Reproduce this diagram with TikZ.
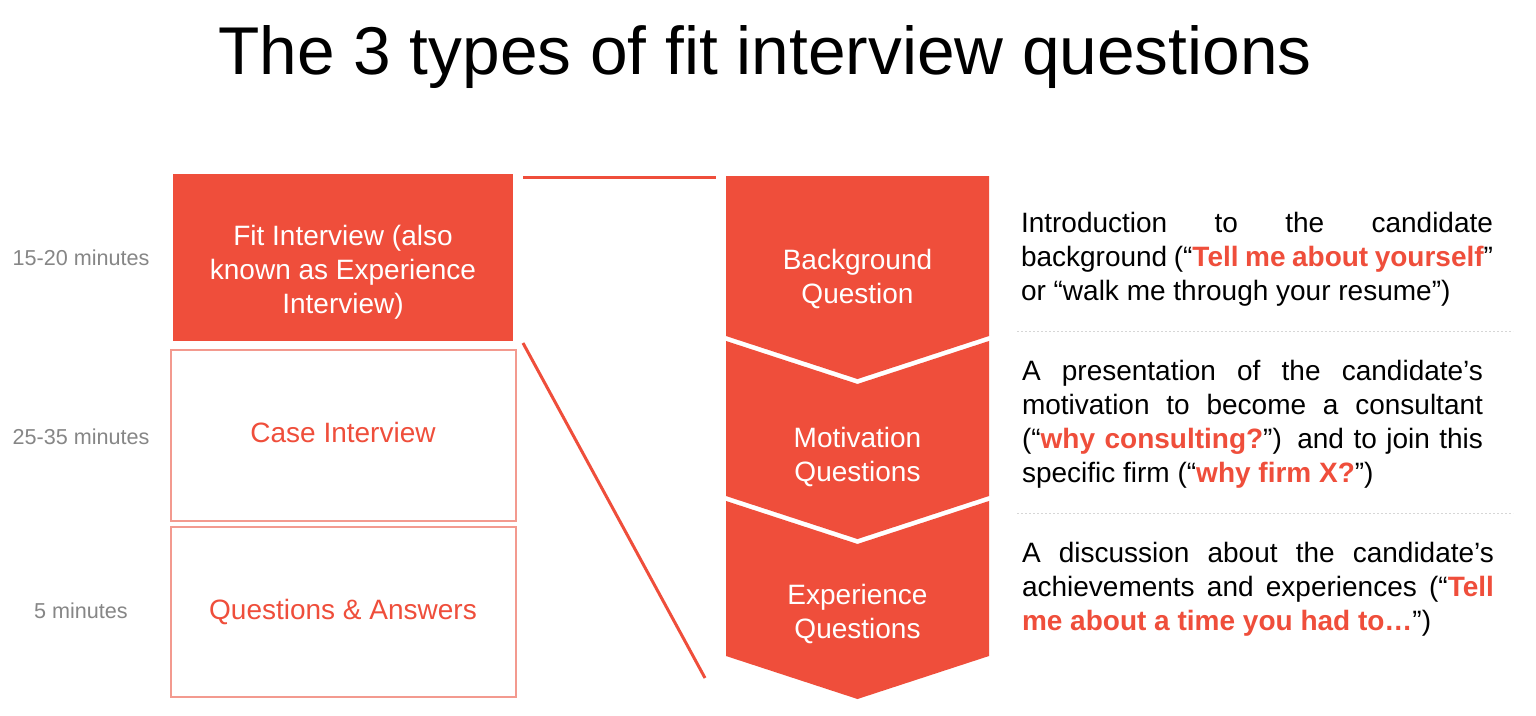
\documentclass[tikz,border=0pt]{standalone}
\usepackage{fontspec}
\setmainfont{Liberation Sans}
\definecolor{qred}{HTML}{EF4E3B}
\definecolor{qpink}{HTML}{F39A8F}
\definecolor{qgray}{HTML}{868686}
\definecolor{qsep}{HTML}{D6D6D6}
\newcommand{\hlq}[1]{\textbf{\color{qred}#1}}
\begin{document}
\begin{tikzpicture}[x=1pt,y=-1pt,
  every node/.style={inner sep=0pt,outer sep=0pt},
  txt/.style={font=\fontsize{28}{34}\selectfont},
  lbl/.style={txt,align=center,anchor=center},
  timelbl/.style={font=\fontsize{21.6}{26}\selectfont,text=qgray,anchor=base},
  para/.style={txt,align=left,anchor=north west},
  outbox/.style={draw=qpink,line width=1.5pt},
  chev/.style={fill=qred},
  link/.style={draw=qred,line width=3pt},
  sep/.style={draw=qsep,line width=1pt,dash pattern=on 2pt off 2pt}]
\useasboundingbox[fill=white] (0,0) rectangle (1536,715);

% title
\node[font=\fontsize{67.6}{80}\selectfont,anchor=base] (title) at (765,74) {The 3 types of fit interview questions};

% time labels
\node[timelbl] (t1) at (81,265) {15-20 minutes};
\node[timelbl] (t2) at (81,444) {25-35 minutes};
\node[timelbl] (t3) at (81,618) {5 minutes};

% left boxes
\path[fill=qred] (173,174) rectangle (513,341);
\node[lbl,text=white] (fit) at (343,272.2) {\strut Fit Interview (also\\\strut known as Experience\\\strut Interview)};
\path[outbox] (171,350) rectangle (516,521);
\node[txt,text=qred,anchor=base] (case) at (343,442) {Case Interview};
\path[outbox] (171,527) rectangle (516,697);
\node[txt,text=qred,anchor=base] (qa) at (343,619) {Questions \& Answers};

% connectors
\coordinate (c1a) at (523,177);
\coordinate (c1b) at (716,177);
\coordinate (c2a) at (523,343);
\coordinate (c2b) at (705,678);
\draw[link] (c1a) -- (c1b);
\draw[link] (c2a) -- (c2b);

% chevrons
\path[chev] (726,176) -- (989,176) -- (989,336) -- (857.5,379) -- (726,336) -- cycle;
\path[chev] (726,341) -- (857.5,384) -- (989,341) -- (989,496) -- (857.5,539) -- (726,496) -- cycle;
\path[chev] (726,501) -- (857.5,544) -- (989,501) -- (989,656) -- (857.5,699) -- (726,656) -- cycle;
\node[lbl,text=white] (bg) at (857.5,279.2) {\strut Background\\\strut Question};
\node[lbl,text=white] (mot) at (857.5,457.2) {\strut Motivation\\\strut Questions};
\node[lbl,text=white] (exq) at (857.5,614.2) {\strut Experience\\\strut Questions};

% descriptions
\node[para] (p1) at (1021,208.2) {%
\makebox[472pt][s]{\strut Introduction to the candidate}\\
\makebox[472pt][s]{\strut background (“\hlq{Tell me about yourself}”}\\
\strut or “walk me through your resume”)};
\node[para] (p2) at (1022,356.2) {%
\makebox[461pt][s]{\strut A presentation of the candidate’s}\\
\makebox[461pt][s]{\strut motivation to become a consultant}\\
\makebox[461pt][s]{\strut (“\hlq{why consulting?}”) and to join this}\\
\strut specific firm (“\hlq{why firm X?}”)};
\node[para] (p3) at (1022,538.2) {%
\makebox[472pt][s]{\strut A discussion about the candidate’s}\\
\makebox[472pt][s]{\strut achievements and experiences (“\hlq{Tell}}\\
\strut\hlq{me about a time you had to…}”)};

% separators
\coordinate (s1a) at (1017,331);
\coordinate (s1b) at (1513,331);
\coordinate (s2a) at (1017,513);
\coordinate (s2b) at (1513,513);
\draw[sep] (s1a) -- (s1b);
\draw[sep] (s2a) -- (s2b);
\end{tikzpicture}
\end{document}
